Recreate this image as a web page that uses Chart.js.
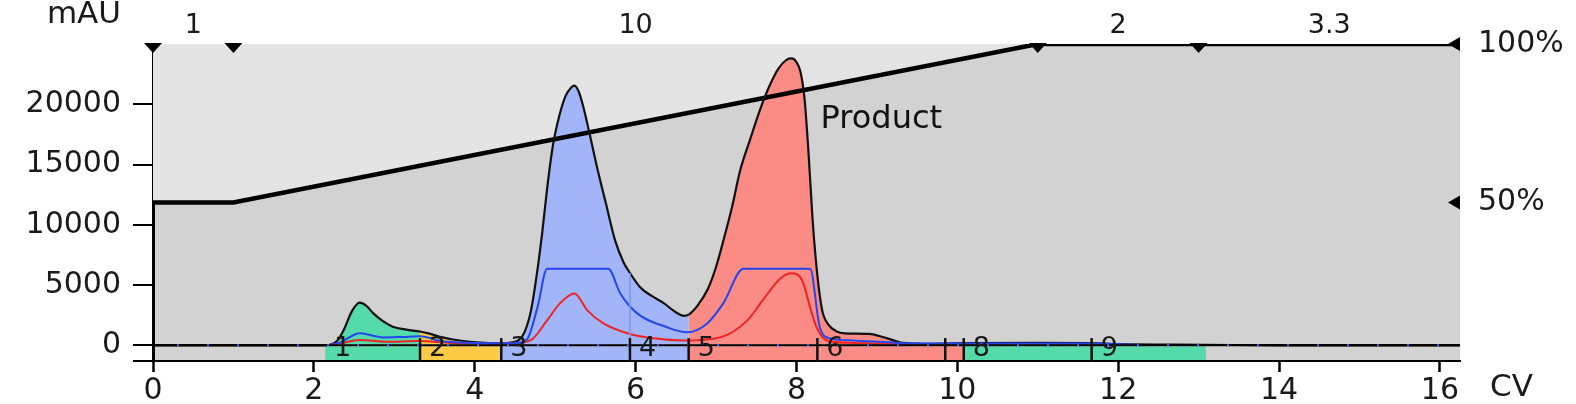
<!DOCTYPE html>
<html>
<head>
<meta charset="utf-8">
<script src="https://cdn.jsdelivr.net/npm/chart.js@4.4.1/dist/chart.umd.min.js"></script>
<style>
  html, body { margin: 0; padding: 0; background: #fff; }
  #wrap { width: 1576px; height: 404px; position: relative; }
</style>
</head>
<body>
<div id="wrap"><canvas id="myChart"></canvas></div>
<script>
// ---- data ----
// UV (black trace, filled by fraction colour)
const uvCv  = [0, 1, 2.0, 2.14, 2.22, 2.30, 2.38, 2.47, 2.57, 2.65, 2.74, 2.85, 2.98, 3.15, 3.32, 3.45, 3.60, 3.81, 4.02, 4.33, 4.47, 4.55, 4.62, 4.70, 4.77, 4.84, 4.90, 4.97, 5.05, 5.13, 5.20, 5.24, 5.29, 5.35, 5.42, 5.52, 5.63, 5.75, 5.85, 5.93, 6.06, 6.20, 6.35, 6.50, 6.60, 6.66, 6.77, 6.90, 7.00, 7.10, 7.20, 7.30, 7.42, 7.55, 7.67, 7.78, 7.88, 7.94, 8.00, 8.05, 8.10, 8.15, 8.20, 8.26, 8.32, 8.40, 8.50, 8.60, 8.90, 9.12, 9.32, 9.60, 9.85, 10.08, 11.0, 11.67, 12.0, 13.09, 14.0, 16.25];
const uvMau = [0, 0, 0, 0, 80, 450, 1400, 2800, 3550, 3300, 2650, 2050, 1550, 1300, 1150, 950, 660, 400, 250, 170, 250, 450, 1100, 2900, 5800, 9400, 13000, 16500, 19000, 20700, 21400, 21550, 21100, 19800, 17800, 14800, 11800, 8600, 6900, 6000, 4800, 4100, 3500, 2750, 2450, 2550, 3300, 4700, 6500, 8900, 11500, 14500, 17000, 19600, 21600, 23000, 23700, 23800, 23500, 22700, 20500, 16000, 10500, 5800, 2900, 1700, 1150, 1000, 950, 600, 200, 130, 150, 180, 200, 180, 100, 50, 0, 0];

// second UV wavelength (blue trace)
const blueCv  = [2.2, 2.33, 2.57, 2.86, 3.1, 3.32, 3.6, 4.0, 4.5, 4.65, 4.78, 4.90, 5.66, 5.81, 6.02, 6.39, 6.64, 6.89, 7.09, 7.34, 8.17, 8.29, 8.42, 8.7, 9.3, 10.0, 11.67, 12.3];
const blueMau = [30, 250, 1000, 660, 700, 750, 330, 200, 180, 500, 3150, 6350, 6350, 4300, 2650, 1500, 1080, 1820, 3480, 6350, 6350, 1500, 580, 400, 200, 150, 150, 30];

// third UV wavelength (red trace)
const redCv  = [2.2, 2.35, 2.57, 2.9, 3.3, 3.7, 4.4, 4.69, 4.90, 5.06, 5.24, 5.40, 5.60, 5.90, 6.22, 6.6, 7.05, 7.39, 7.58, 7.80, 7.94, 8.07, 8.17, 8.25, 8.38, 8.7, 9.5, 10.0];
const redMau = [30, 200, 450, 300, 350, 200, 150, 400, 2070, 3480, 4300, 2900, 1820, 1000, 580, 400, 660, 2070, 3730, 5550, 5970, 5400, 3150, 1500, 400, 200, 100, 30];

// gradient (% B)
const gradCv  = [0, 1, 11, 16.25];
const gradPct = [50, 50, 100, 100];

// method blocks (top labels are the block lengths in CV)
const blockStart  = [0, 1, 11, 13];
const blockLength = [1, 10, 2, 3.3];

// fractions
const fractionStart  = [2.14, 3.32, 4.33, 5.93, 6.66, 8.26, 9.85, 10.08, 11.67];
const lastFractionEnd = 13.09;
const fractionLabels = ["1", "2", "3", "4", "5", "6", "7", "8", "9"];
const fractionColors = ["#55dba9", "#fdca46", "#a1b5f8", "#a1b5f8", "#fa8b85", "#fa8b85", "#fa8b85", "#55dba9", "#55dba9"];

// axes
const xMin = 0, xMax = 16.25;
const yMin = -1300, yMax = 25000;
const xTickValues = [0, 2, 4, 6, 8, 10, 12, 14, 16];
const yTickValues = [-1300, 0, 5000, 10000, 15000, 20000];
const pctTickValues = [50, 100];

const fractionEnd = fractionStart.slice(1).concat(lastFractionEnd);

function toPoints(xs, ys) {
    return xs.map((x, i) => ({ x: x, y: ys[i] }));
}

function fractionIndexAt(cv) {
    for (let i = 0; i < fractionStart.length; i++) {
        if (cv >= fractionStart[i] && cv < fractionEnd[i]) return i;
    }
    return -1;
}

function fillColorAt(cv) {
    const i = fractionIndexAt(cv);
    return i < 0 ? "rgba(0,0,0,0)" : fractionColors[i];
}

const FONT = '"DejaVu Sans", sans-serif';
Chart.defaults.font.family = FONT;
Chart.defaults.color = "#1a1a1a";

// background, fractions, markers and free text
const decorPlugin = {
    id: "decor",
    beforeDraw(chart) {
        const { ctx, chartArea: a } = chart;
        ctx.save();
        ctx.fillStyle = "#d2d2d2";
        ctx.fillRect(a.left, a.top, a.right - a.left, a.bottom - a.top);
        ctx.restore();
    },
    afterDatasetsDraw(chart) {
        const { ctx, chartArea: a } = chart;
        const x = chart.scales.x, y = chart.scales.y, y2 = chart.scales.y2;
        const y0 = y.getPixelForValue(0);
        ctx.save();

        // fraction boxes below the baseline
        for (let i = 0; i < fractionStart.length; i++) {
            const l = x.getPixelForValue(fractionStart[i]);
            const r = x.getPixelForValue(fractionEnd[i]);
            ctx.fillStyle = fractionColors[i];
            ctx.fillRect(l, y0 + 1, r - l, a.bottom - y0 - 2);
        }
        // seam inside the blue peak between fractions of same colour
        ctx.strokeStyle = "#7e97ee";
        ctx.lineWidth = 1.5;
        for (let i = 1; i < fractionStart.length; i++) {
            if (fractionColors[i] === fractionColors[i - 1] && fractionColors[i] === "#a1b5f8") {
                const k = uvCv.indexOf(fractionStart[i]);
                if (k >= 0) {
                    const px = x.getPixelForValue(fractionStart[i]);
                    ctx.beginPath();
                    ctx.moveTo(px, y0);
                    ctx.lineTo(px, y.getPixelForValue(uvMau[k]));
                    ctx.stroke();
                }
            }
        }
        // zero line with the dotted trace on it
        ctx.strokeStyle = "#000";
        ctx.lineWidth = 2;
        ctx.beginPath();
        ctx.moveTo(a.left, y0);
        ctx.lineTo(a.right, y0);
        ctx.stroke();
        ctx.strokeStyle = "#4f6cff";
        ctx.setLineDash([2, 28]);
        ctx.beginPath();
        ctx.moveTo(a.left + 24, y0);
        ctx.lineTo(a.right, y0);
        ctx.stroke();
        ctx.setLineDash([]);

        // boundary marks
        ctx.strokeStyle = "#111";
        ctx.lineWidth = 2.5;
        for (let i = 1; i < fractionStart.length; i++) {
            const px = x.getPixelForValue(fractionStart[i]);
            ctx.beginPath();
            ctx.moveTo(px, y.getPixelForValue(600));
            ctx.lineTo(px, a.bottom);
            ctx.stroke();
        }
        // fraction labels
        ctx.fillStyle = "#1a1a1a";
        ctx.font = "27px " + FONT;
        ctx.textAlign = "left";
        ctx.textBaseline = "alphabetic";
        for (let i = 0; i < fractionStart.length; i++) {
            const l = x.getPixelForValue(fractionStart[i]);
            const r = x.getPixelForValue(fractionEnd[i]);
            if (r - l < 30) continue;
            ctx.fillText(fractionLabels[i], l + 9, a.bottom - 5);
        }

        // block markers on top
        ctx.fillStyle = "#000";
        blockStart.forEach(s => {
            const px = x.getPixelForValue(s);
            ctx.beginPath();
            ctx.moveTo(px - 9, a.top - 1);
            ctx.lineTo(px + 9, a.top - 1);
            ctx.lineTo(px, a.top + 9);
            ctx.closePath();
            ctx.fill();
        });
        // gradient level markers at the right end
        pctTickValues.forEach(p => {
            const py = y2.getPixelForValue(p);
            ctx.beginPath();
            ctx.moveTo(a.right, py - 7);
            ctx.lineTo(a.right, py + 7);
            ctx.lineTo(a.right - 12, py);
            ctx.closePath();
            ctx.fill();
        });

        // block length labels
        ctx.fillStyle = "#1a1a1a";
        ctx.font = "27px " + FONT;
        ctx.textAlign = "center";
        ctx.textBaseline = "middle";
        blockStart.forEach((s, i) => {
            const e = Math.min(s + blockLength[i], xMax);
            ctx.fillText(String(blockLength[i]), x.getPixelForValue((s + e) / 2), 26);
        });

        // axis units
        ctx.font = "31px " + FONT;
        ctx.textAlign = "right";
        ctx.fillText("mAU", 121, 15);
        ctx.textAlign = "left";
        ctx.fillText("CV", 1490, 388);

        // peak annotation
        ctx.font = "32px " + FONT;
        ctx.textBaseline = "alphabetic";
        ctx.fillStyle = "#111";
        ctx.fillText("Product", x.getPixelForValue(8.3), y.getPixelForValue(18000));

        ctx.restore();
    }
};

const canvas = document.getElementById("myChart");

new Chart(canvas, {
    type: "line",
    data: {
        datasets: [
            {
                label: "UV 2",
                data: toPoints(blueCv, blueMau),
                borderColor: "#2446ee",
                borderWidth: 2,
                pointRadius: 0,
                cubicInterpolationMode: "monotone",
                fill: false,
                order: 1
            },
            {
                label: "UV 3",
                data: toPoints(redCv, redMau),
                borderColor: "#ee2424",
                borderWidth: 2,
                pointRadius: 0,
                cubicInterpolationMode: "monotone",
                fill: false,
                order: 2
            },
            {
                label: "UV 1",
                data: toPoints(uvCv, uvMau),
                borderColor: "#111",
                borderWidth: 2.2,
                pointRadius: 0,
                cubicInterpolationMode: "monotone",
                backgroundColor: "rgba(0,0,0,0)",
                fill: "origin",
                segment: {
                    backgroundColor: ctx => fillColorAt((ctx.p0.parsed.x + ctx.p1.parsed.x) / 2)
                },
                order: 3
            },
            {
                label: "Gradient",
                data: toPoints(gradCv, gradPct),
                yAxisID: "y2",
                borderColor: "#000",
                borderWidth: 4.5,
                pointRadius: 0,
                tension: 0,
                backgroundColor: "#e4e4e4",
                fill: "end",
                order: 4
            }
        ]
    },
    options: {
        responsive: true,
        maintainAspectRatio: false,
        animation: false,
        layout: { padding: { top: 44, left: 0, right: 0, bottom: 0 } },
        plugins: {
            legend: { display: false },
            tooltip: { enabled: false },
            filler: { drawTime: "beforeDatasetsDraw" }
        },
        scales: {
            x: {
                type: "linear",
                min: xMin,
                max: xMax,
                afterBuildTicks: s => { s.ticks = xTickValues.map(v => ({ value: v })); },
                afterFit: s => { s.height = 43; },
                ticks: { autoSkip: false, maxRotation: 0, padding: 1, font: { size: 30 }, color: "#1a1a1a" },
                grid: { drawOnChartArea: false, tickLength: 11, tickColor: "#000", tickWidth: 2.5 },
                border: { color: "#000", width: 2 }
            },
            y: {
                type: "linear",
                min: yMin,
                max: yMax,
                afterBuildTicks: s => { s.ticks = yTickValues.map(v => ({ value: v })); },
                afterFit: s => { s.width = 153; },
                ticks: {
                    padding: 12,
                    font: { size: 30 },
                    color: "#1a1a1a",
                    callback: v => (v < 0 ? "" : String(v))
                },
                grid: {
                    color: c => (c.tick && c.tick.value === 0 ? "#000" : "rgba(0,0,0,0)"),
                    lineWidth: 2,
                    tickLength: 20,
                    tickColor: "#000",
                    tickWidth: 2
                },
                border: { color: "#000", width: 3 }
            },
            y2: {
                type: "linear",
                position: "right",
                min: 0,
                max: 100,
                afterBuildTicks: s => { s.ticks = pctTickValues.map(v => ({ value: v })); },
                afterFit: s => { s.width = 116; },
                ticks: { padding: 18, font: { size: 30 }, color: "#1a1a1a", callback: v => v + "%" },
                grid: { display: false, drawTicks: false },
                border: { display: false }
            }
        }
    },
    plugins: [decorPlugin]
});
</script>
</body>
</html>
